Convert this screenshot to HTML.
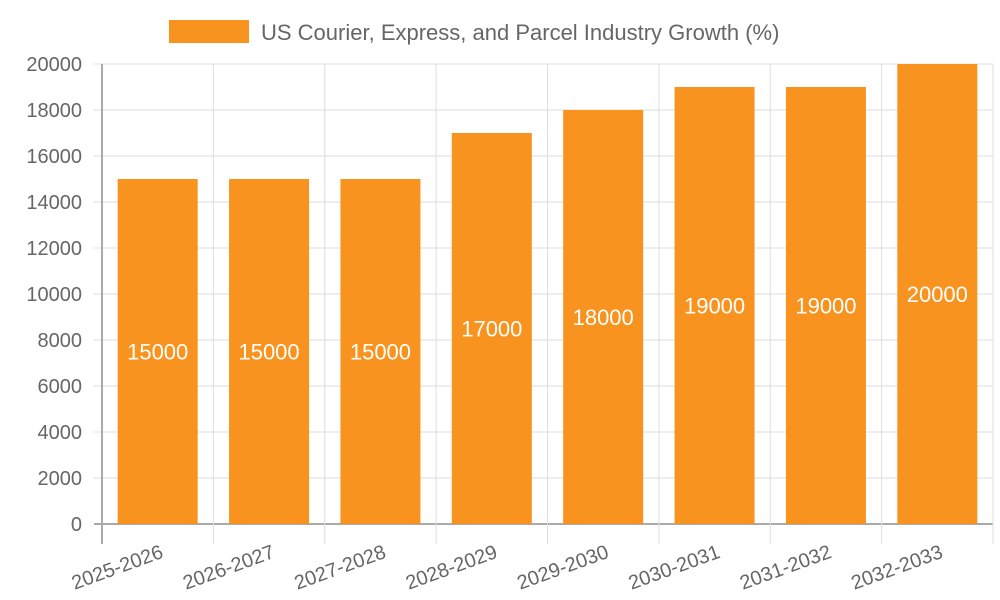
<!DOCTYPE html>
<html><head><meta charset="utf-8"><style>body{margin:0;background:#fff}svg{display:block;font-family:"Liberation Sans",sans-serif}</style></head>
<body>
<svg id="c" width="1000" height="600">
<rect x="169" y="20" width="80" height="23" fill="#f7931e"/>
<text x="261" y="40" font-size="22" fill="#666">US Courier, Express, and Parcel Industry Growth (%)</text>
<g id="grid"></g><g id="bars"></g><g id="labels"></g>
</svg>
<script>
const categories=["2025-2026","2026-2027","2027-2028","2028-2029","2029-2030","2030-2031","2031-2032","2032-2033"];
const values=[15000,15000,15000,17000,18000,19000,19000,20000];
const yTicks=[0,2000,4000,6000,8000,10000,12000,14000,16000,18000,20000];
const NS="http://www.w3.org/2000/svg";
const L=102,R=993,T=64,B=524,yMax=20000;
const bw=(R-L)/categories.length;
const y=v=>B-(v/yMax)*(B-T);
const x=i=>L+i*bw;
function mk(tag,attrs,parent,txt){const e=document.createElementNS(NS,tag);for(const k in attrs)e.setAttribute(k,attrs[k]);if(txt!==undefined)e.textContent=txt;document.getElementById(parent).appendChild(e);return e;}
yTicks.forEach(t=>{
 const g=mk('line',{x1:L-8,x2:R,y1:y(t),y2:y(t),stroke:t===0?'#aaa':'#ddd','stroke-width':t===0?2:1},'grid');
 
 
 const tx=mk('text',{x:L-20,y:y(t)+7,'font-size':20,fill:'#666','text-anchor':'end'},'grid',String(t));
 
 
});
for(let i=0;i<=categories.length;i++){
 const g=mk('line',{x1:x(i),x2:x(i),y1:T,y2:B+20,stroke:i===0?'#aaa':'#ddd','stroke-width':i===0?2:1},'grid');
 
 
}
categories.forEach((c,i)=>{
 const cx=x(i)+bw/2;
 const r=mk('rect',{x:cx-40,y:y(values[i]),width:80,height:B-y(values[i]),fill:'#f7931e'},'bars');
 
 
 const v=mk('text',{x:cx,y:(y(values[i])+B)/2+8,'font-size':22,fill:'#fff','text-anchor':'middle'},'labels',String(values[i]));
 
 
 const lx=cx+2,ly=544;
 const t=mk('text',{x:lx,y:ly+14,'font-size':20,fill:'#666','text-anchor':'end',transform:`rotate(-20 ${lx} ${ly})`},'labels',c);
 
 
});
</script>
</body></html>
